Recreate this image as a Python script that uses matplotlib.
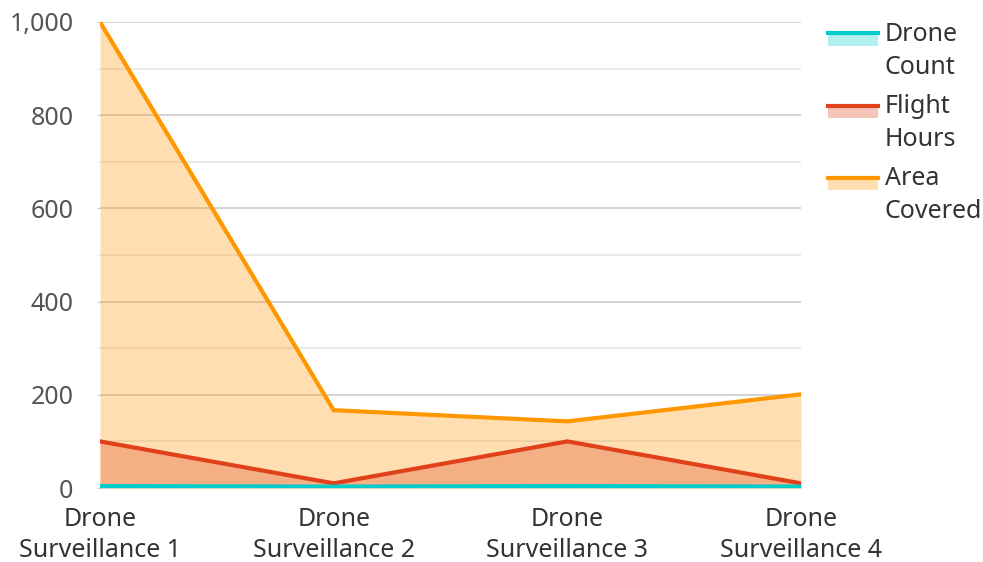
import matplotlib
matplotlib.use("Agg")
import numpy as np
from matplotlib import pyplot as plt
from matplotlib.patches import Rectangle
from matplotlib.lines import Line2D
from matplotlib.legend_handler import HandlerBase

plt.rcParams['font.family'] = ['Noto Sans', 'DejaVu Sans']

categories = ["Drone\nSurveillance 1", "Drone\nSurveillance 2", "Drone\nSurveillance 3", "Drone\nSurveillance 4"]
drone_count = [4, 3, 4, 3]
flight_hours = [100, 10, 100, 10]
area_covered = [1000, 167, 143, 201]

series_names = ["Drone\nCount", "Flight\nHours", "Area\nCovered"]
series_colors = ["#00cccc", "#e0401a", "#ff9800"]
series_data = [area_covered, flight_hours, drone_count]


class LinePatchHandler(HandlerBase):
	# line sits on top of a pale patch, aligned with the first text line
	def create_artists(self, legend, orig_handle, xdescent, ydescent, width, height, fontsize, trans):
		color = orig_handle.get_color()
		mid = -ydescent + height / 2
		top = mid + 13
		rect = Rectangle((-xdescent, top - 9), width, 9,
			facecolor=color, alpha=0.3, edgecolor="none", transform=trans)
		line = Line2D([-xdescent, -xdescent + width], [top, top],
			color=color, lw=3, transform=trans)
		return [rect, line]


fig = plt.figure(figsize=(9.83, 5.62), dpi=100)
ax = fig.add_axes([100 / 983, 74 / 562, 701 / 983, 466 / 562])

x = np.arange(len(categories))
# draw largest first so the smaller fills sit on top
for vals, color in zip(series_data, series_colors[::-1]):
	ax.fill_between(x, 0, vals, color=color, alpha=0.3, lw=0, zorder=2)
	ax.plot(x, vals, color=color, lw=3, zorder=3, solid_joinstyle="miter")

ax.set_xlim(0, 3)
ax.set_ylim(0, 1000)
ax.set_yticks(np.arange(0, 1001, 200))
ax.set_yticks(np.arange(100, 1000, 200), minor=True)
ax.set_yticklabels(["{:,}".format(v) for v in range(0, 1001, 200)])
ax.set_xticks(x)
ax.set_xticklabels(categories, linespacing=1.27)

ax.grid(axis="y", which="major", color="#cccccc", lw=1.2, zorder=0)
ax.grid(axis="y", which="minor", color="#e6e6e6", lw=1.2, zorder=0)
ax.tick_params(axis="y", which="major", length=2, color="#cccccc", labelsize=18, labelcolor="#555555", pad=17)
ax.tick_params(axis="y", which="minor", length=2, color="#e6e6e6")
ax.tick_params(axis="x", length=0, labelsize=18, labelcolor="#333333", pad=14)
for s in ax.spines.values():
	s.set_visible(False)

handles = [Line2D([], [], color=c) for c in series_colors]
leg = fig.legend(handles, series_names, loc="upper left", bbox_to_anchor=(818 / 983, 1 - 12 / 562),
	frameon=False, fontsize=18, handler_map={Line2D: LinePatchHandler()},
	handlelength=2.0, handletextpad=0.28, labelspacing=0.58, borderaxespad=0)
for t in leg.get_texts():
	t.set_color("#333333")
	t.set_linespacing(1.4)

fig.savefig("out.png", dpi=100)
